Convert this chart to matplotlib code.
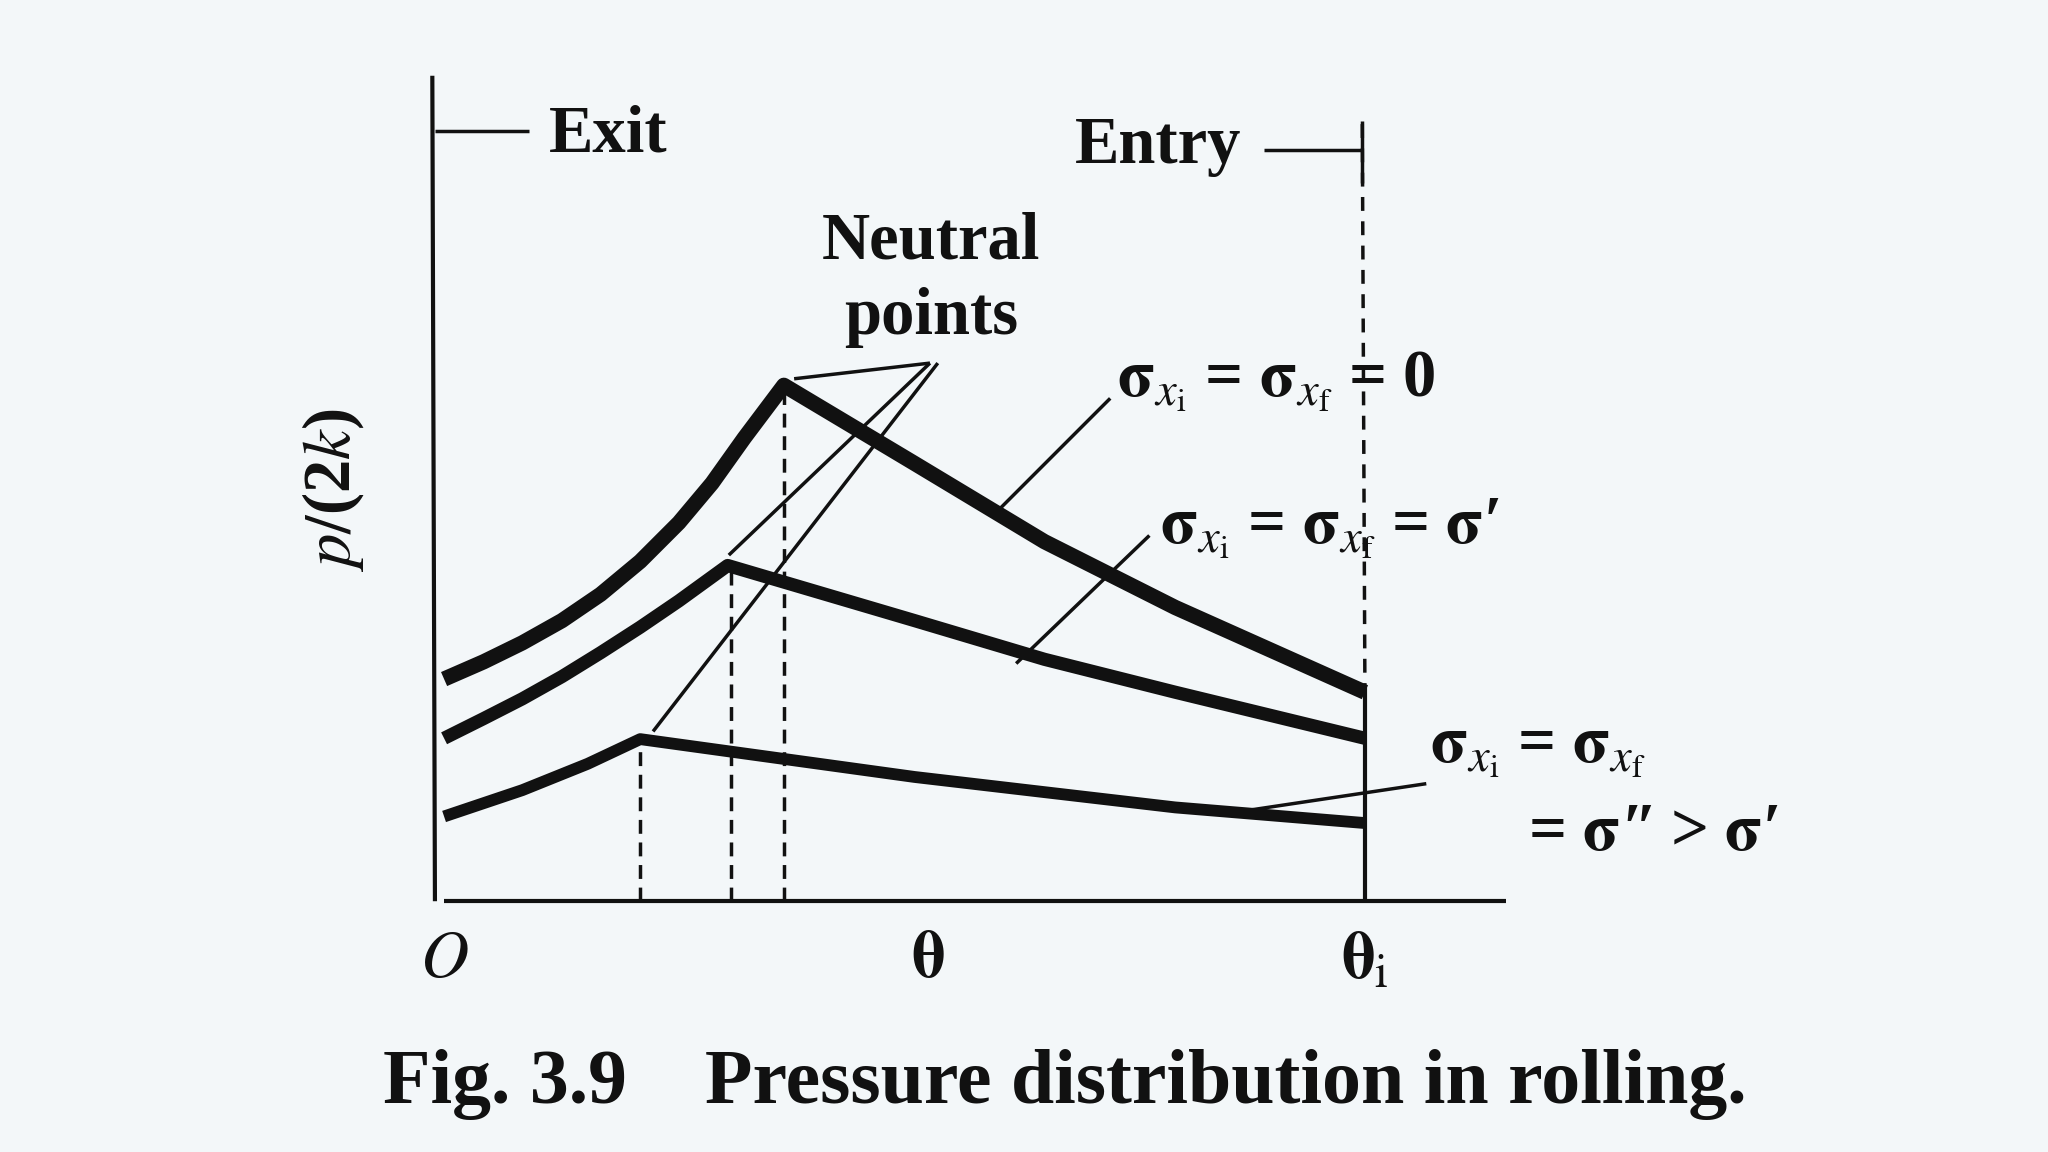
import matplotlib
matplotlib.use("Agg")
import matplotlib.pyplot as plt

plt.rcParams['font.family'] = ['Liberation Serif', 'DejaVu Serif']
plt.rcParams['mathtext.fontset'] = 'stix'

# curves: theta / theta_i and p/(2k)
top_x = [0, 0.043, 0.085, 0.128, 0.170, 0.213, 0.255, 0.291, 0.326, 0.369,
         0.511, 0.652, 0.794, 1.0]
top_p = [0.270, 0.291, 0.314, 0.341, 0.373, 0.413, 0.460, 0.508, 0.563, 0.627,
         0.532, 0.437, 0.357, 0.254]
mid_x = [0, 0.043, 0.085, 0.128, 0.170, 0.213, 0.255, 0.308,
         0.511, 0.652, 0.794, 1.0]
mid_p = [0.198, 0.222, 0.246, 0.273, 0.302, 0.333, 0.365, 0.408,
         0.341, 0.294, 0.254, 0.198]
low_x = [0, 0.085, 0.156, 0.213, 0.511, 0.794, 1.0]
low_p = [0.103, 0.135, 0.167, 0.197, 0.151, 0.114, 0.095]
neutral_x = [0.213, 0.312, 0.369]
neutral_p = [0.197, 0.408, 0.627]

W, H = 1568, 882
X0, Y0, SX, SY = 340, 690, 705, 630


def P(px, py):
    return (px - X0) / SX, (Y0 - py) / SY


fig = plt.figure(figsize=(20.48, 11.52), dpi=100, facecolor='#f3f7f9')
ax = fig.add_axes([0, 0, 1, 1])
ax.set_facecolor('#f3f7f9')
ax.set_xlim(-X0 / SX, (W - X0) / SX)
ax.set_ylim(-(H - Y0) / SY, Y0 / SY)
ax.axis('off')

k = dict(color='#111111', solid_capstyle='butt', solid_joinstyle='round')
ax.plot(top_x, top_p, lw=11, **k)
ax.plot(mid_x, mid_p, lw=9.5, **k)
ax.plot(low_x, low_p, lw=8.5, **k)

# axes
ax.plot(*zip(P(331, 58), P(333, 690)), lw=3, **k)
ax.plot(*zip(P(340, 690), P(1153, 690)), lw=3, **k)
ax.plot(*zip(P(1045, 525), P(1045, 690)), lw=3, **k)
ax.plot(*zip(P(1043, 95), P(1045, 525)), lw=2.5, ls=(0, (4, 3)), color='#111111')

for x, p in zip(neutral_x, neutral_p):
    ax.plot([x, x], [0, p], lw=2.5, ls=(0, (4, 2.5)), color='#111111')

# exit / entry markers
ax.plot(*zip(P(333, 100), P(405, 100)), lw=2.5, **k)
ax.plot(*zip(P(968, 115), P(1043, 115)), lw=2.5, **k)
ax.plot(*zip(P(1043, 93), P(1043, 140)), lw=2.5, **k)

# leader lines
for a, b in [((608, 290), (712, 278)), ((712, 278), (558, 425)),
             ((718, 278), (500, 560)), ((850, 305), (760, 395)),
             ((880, 410), (778, 508)), ((1092, 600), (945, 622))]:
    ax.plot(*zip(P(*a), P(*b)), lw=2.5, **k)

fs = 48
t = dict(fontsize=fs, color='#111111', fontweight='bold')
plt.rcParams['mathtext.default'] = 'regular'
ax.text(*P(420, 103), 'Exit', va='center', ha='left', **t)
ax.text(*P(950, 112), 'Entry', va='center', ha='right', **t)
ax.text(*P(713, 185), 'Neutral', va='center', ha='center', **t)
ax.text(*P(713, 243), 'points', va='center', ha='center', **t)
ax.text(*P(855, 292), r'$\mathbf{\sigma}_{\mathit{x}_{\rm i}}$ = $\mathbf{\sigma}_{\mathit{x}_{\rm f}}$ = 0',
        va='center', ha='left', **t)
ax.text(*P(888, 405), r'$\mathbf{\sigma}_{\mathit{x}_{\rm i}}$ = $\mathbf{\sigma}_{\mathit{x}_{\rm f}}$ = $\mathbf{\sigma}$ʹ',
        va='center', ha='left', **t)
ax.text(*P(1095, 574), r'$\mathbf{\sigma}_{\mathit{x}_{\rm i}}$ = $\mathbf{\sigma}_{\mathit{x}_{\rm f}}$',
        va='center', ha='left', **t)
ax.text(*P(1170, 638), r'= $\mathbf{\sigma}$ʺ > $\mathbf{\sigma}$ʹ', va='center', ha='left', **t)
ax.text(*P(255, 375), r'$\mathit{p}$/(2$\mathit{k}$)', va='center', ha='center', rotation=90, **t)
ax.text(*P(340, 735), r'$\mathit{O}$', va='center', ha='center', **t)
ax.text(*P(710, 735), r'$\mathbf{\theta}$', va='center', ha='center', **t)
ax.text(*P(1045, 737), r'$\mathbf{\theta}_{\rm i}$', va='center', ha='center', **t)
ax.text(*P(815, 830), 'Fig. 3.9    Pressure distribution in rolling.',
        va='center', ha='center', fontsize=56, color='#111111', fontweight='bold')

fig.savefig('out.png', dpi=100, facecolor=fig.get_facecolor())
